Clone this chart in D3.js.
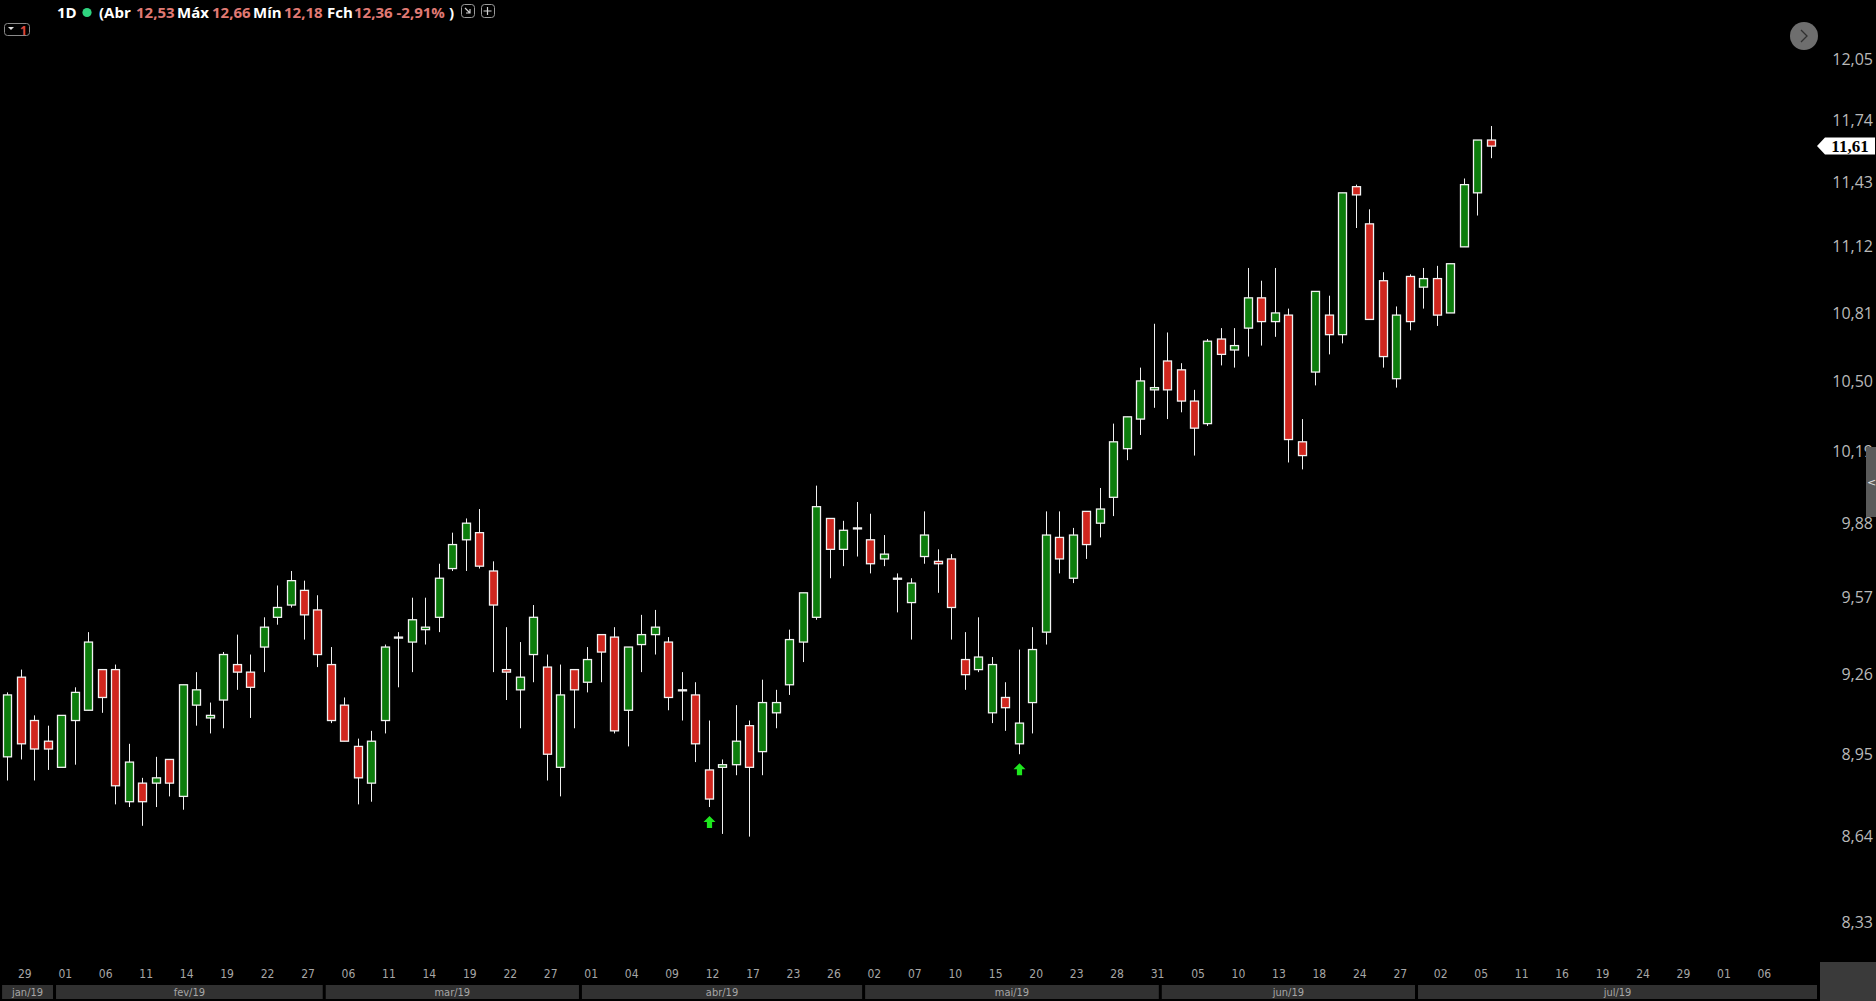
<!DOCTYPE html>
<html><head><meta charset="utf-8">
<script src="https://cdn.jsdelivr.net/npm/d3@7"></script>
<style>html,body{margin:0;padding:0;background:#000;overflow:hidden}</style>
</head><body><svg id="c" width="1876" height="1001"></svg>
<script>
// ---------- DATA ----------
const tradingDates = [
 "28/01","29/01","30/01","31/01",
 "01/02","04/02","05/02","06/02","07/02","08/02","11/02","12/02","13/02","14/02","15/02","18/02","19/02","20/02","21/02","22/02","25/02","26/02","27/02","28/02",
 "01/03","06/03","07/03","08/03","11/03","12/03","13/03","14/03","15/03","18/03","19/03","20/03","21/03","22/03","25/03","26/03","27/03","28/03","29/03",
 "01/04","02/04","03/04","04/04","05/04","08/04","09/04","10/04","11/04","12/04","15/04","16/04","17/04","18/04","22/04","23/04","24/04","25/04","26/04","29/04","30/04",
 "02/05","03/05","06/05","07/05","08/05","09/05","10/05","13/05","14/05","15/05","16/05","17/05","20/05","21/05","22/05","23/05","24/05","27/05","28/05","29/05","30/05","31/05",
 "03/06","04/06","05/06","06/06","07/06","10/06","11/06","12/06","13/06","14/06","17/06","18/06","19/06","21/06","24/06","25/06","26/06","27/06","28/06",
 "01/07","02/07","03/07","04/07","05/07","08/07"];
const futureDates = ["10/07","11/07","12/07","15/07","16/07","17/07","18/07","19/07","22/07","23/07","24/07","25/07","26/07","29/07","30/07","31/07","01/08","02/08","05/08","06/08","07/08","08/08","09/08","12/08"];
const monthNames = {"01":"jan/19","02":"fev/19","03":"mar/19","04":"abr/19","05":"mai/19","06":"jun/19","07":"jul/19"};

const openV = [8.94,9.25,9.08,9.00,8.90,9.08,9.12,9.28,9.28,8.77,
 8.84,8.84,8.93,8.79,9.14,9.09,9.16,9.30,9.27,9.37,
 9.49,9.54,9.60,9.52,9.30,9.14,8.98,8.84,9.08,9.41,
 9.39,9.44,9.49,9.69,9.81,9.84,9.68,9.28,9.20,9.34,
 9.29,8.90,9.28,9.23,9.42,9.41,9.12,9.38,9.42,9.39,
 9.20,9.18,8.89,8.90,8.91,9.06,8.96,9.11,9.22,9.39,
 9.49,9.90,9.77,9.86,9.81,9.73,9.65,9.55,9.74,9.72,
 9.73,9.32,9.28,9.11,9.17,8.99,9.15,9.43,9.82,9.65,
 9.93,9.88,9.99,10.20,10.33,10.46,10.59,10.55,10.41,10.31,
 10.69,10.64,10.74,10.88,10.77,10.80,10.23,10.54,10.80,10.71,
 11.41,11.23,10.96,10.51,10.98,10.93,10.97,10.81,11.12,11.38,11.64];
const highV = [9.19,9.28,9.10,9.06,9.10,9.21,9.43,9.28,9.30,8.99,
 8.86,8.94,8.93,9.22,9.27,9.15,9.35,9.42,9.34,9.49,
 9.62,9.68,9.64,9.58,9.37,9.17,9.01,9.04,9.38,9.43,
 9.57,9.57,9.71,9.84,9.90,9.94,9.72,9.45,9.39,9.54,
 9.34,9.30,9.28,9.37,9.42,9.45,9.37,9.50,9.52,9.41,
 9.27,9.23,9.08,8.93,9.14,9.08,9.24,9.20,9.44,9.59,
 10.04,9.90,9.89,9.97,9.92,9.83,9.67,9.65,9.93,9.77,
 9.75,9.43,9.49,9.33,9.23,9.36,9.45,9.93,9.93,9.86,
 9.93,10.03,10.31,10.34,10.56,10.76,10.72,10.58,10.46,10.69,
 10.74,10.74,11.02,10.96,11.02,10.83,10.33,10.91,10.89,11.38,
 11.42,11.30,11.00,10.84,10.99,11.02,11.03,11.04,11.45,11.64,11.71];
const lowV = [8.85,8.93,8.85,8.89,8.90,8.91,9.12,9.11,8.76,8.75,
 8.68,8.75,8.79,8.74,9.06,9.03,9.05,9.20,9.09,9.27,
 9.46,9.53,9.40,9.29,9.07,9.00,8.76,8.77,9.03,9.21,
 9.27,9.38,9.43,9.68,9.68,9.69,9.27,9.16,9.05,9.23,
 8.85,8.79,9.05,9.19,9.23,9.03,8.98,9.27,9.34,9.12,
 9.08,8.92,8.75,8.65,8.87,8.64,8.87,9.05,9.18,9.31,
 9.48,9.65,9.70,9.74,9.67,9.70,9.51,9.40,9.71,9.59,
 9.40,9.20,9.27,9.07,9.04,8.95,9.03,9.38,9.67,9.63,
 9.73,9.82,9.91,10.15,10.26,10.38,10.33,10.36,10.17,10.30,
 10.57,10.56,10.61,10.66,10.70,10.14,10.11,10.48,10.62,10.67,
 11.21,10.78,10.56,10.47,10.73,10.83,10.75,10.81,11.12,11.27,11.55];
const closeV = [9.18,8.99,8.97,8.97,9.10,9.19,9.39,9.17,8.83,8.92,
 8.77,8.86,8.84,9.22,9.20,9.10,9.34,9.27,9.21,9.45,
 9.53,9.64,9.50,9.34,9.08,9.00,8.86,9.00,9.37,9.41,
 9.48,9.45,9.65,9.79,9.88,9.70,9.54,9.27,9.25,9.49,
 8.95,9.18,9.20,9.32,9.35,9.04,9.37,9.42,9.45,9.17,
 9.20,8.99,8.78,8.91,9.00,8.90,9.15,9.15,9.40,9.59,
 9.95,9.77,9.85,9.86,9.71,9.75,9.65,9.63,9.83,9.71,
 9.53,9.26,9.33,9.30,9.13,9.07,9.36,9.83,9.73,9.83,
 9.79,9.94,10.23,10.34,10.50,10.47,10.46,10.41,10.29,10.68,
 10.62,10.66,10.88,10.77,10.81,10.24,10.17,10.91,10.71,11.38,
 11.37,10.78,10.61,10.80,10.77,10.97,10.80,11.04,11.42,11.64,11.61];
const yTickValues = [8.33,8.64,8.95,9.26,9.57,9.88,10.19,10.50,10.81,11.12,11.43,11.74,12.05];
const signalIndex = [52, 75];
const lastPrice = 11.61;
const headerTexts = ["(Abr","12,53","Máx","12,66","Mín","12,18","Fch","12,36 -2,91%",")"];
const headerKinds = ["w","v","w","v","w","v","w","v","w"];

// ---------- LAYOUT ----------
const W = 1876, H = 1001;
const plotRight = 1817, plotBottom = 960;
const allDates = tradingDates.concat(futureDates);
const x = d3.scaleLinear().domain([0, 1]).range([7.33, 7.33 + 13.485]);
const step = x(1) - x(0);
const y = d3.scaleLog().domain([8.1957, 12.3588]).range([plotBottom, 0]);

const svg = d3.select("#c");
svg.append("rect").attr("width", W).attr("height", H).attr("fill", "#000");
svg.append("defs").append("clipPath").attr("id", "plotclip")
  .append("rect").attr("x", 0).attr("y", 0).attr("width", plotRight).attr("height", plotBottom);

const data = tradingDates.map((d, i) => ({i, d, o: openV[i], h: highV[i], l: lowV[i], c: closeV[i]}));

const g = svg.append("g").attr("clip-path", "url(#plotclip)");
const bodyW = 8;
g.selectAll("line.wick").data(data).join("line")
  .attr("x1", d => Math.round(x(d.i)) + 0.5).attr("x2", d => Math.round(x(d.i)) + 0.5)
  .attr("y1", d => y(d.h)).attr("y2", d => y(d.l))
  .attr("stroke", "#f0f0f0").attr("stroke-width", 1);
g.selectAll("rect.body").data(data).join("rect")
  .attr("x", d => Math.round(x(d.i)) + 0.5 - bodyW / 2)
  .attr("y", d => y(Math.max(d.o, d.c)))
  .attr("width", bodyW)
  .attr("height", d => Math.max(1, Math.abs(y(d.o) - y(d.c))))
  .attr("fill", d => d.c > d.o ? "#0c7c0c" : (d.c < d.o ? "#d0261e" : "#f0f0f0"))
  .attr("stroke", "#f2f2f2").attr("stroke-width", 1.3);

const arrowPath = "M0,0 L6,6 L2.6,6 L2.6,12 L-2.6,12 L-2.6,6 L-6,6 Z";
g.selectAll("path.sig").data(signalIndex).join("path")
  .attr("d", arrowPath)
  .attr("transform", i => `translate(${Math.round(x(i)) + 0.5},${y(lowV[i]) + 9})`)
  .attr("fill", "#1ee61e");

// ---------- Y AXIS ----------
const yAxis = d3.axisRight(y).tickValues(yTickValues)
  .tickFormat(v => d3.format(".2f")(v).replace(".", ",")).tickSize(0).tickPadding(0);
const ya = svg.append("g").attr("transform", `translate(1873,0)`).call(yAxis);
ya.select(".domain").remove();
ya.selectAll("text").attr("text-anchor", "end").attr("x", 0)
  .attr("fill", "#b9b9b9").style("font-family", "'Open Sans', 'Noto Sans', sans-serif").style("font-size", "16px");

const ly = y(lastPrice);
svg.append("path")
  .attr("d", `M1817,${ly} L1825,${ly - 8.5} L1875,${ly - 8.5} L1875,${ly + 8.5} L1825,${ly + 8.5} Z`)
  .attr("fill", "#ffffff");
svg.append("text").attr("x", 1850).attr("y", ly + 6).attr("text-anchor", "middle")
  .attr("fill", "#000").style("font-family", "'Liberation Serif', serif").style("font-weight", "bold")
  .style("font-size", "17px").text(d3.format(".2f")(lastPrice).replace(".", ","));

// ---------- X AXIS (dates) ----------
const tickIdx = d3.range(1, allDates.length, 3).filter(i => x(i) < plotRight - 30);
svg.append("g").selectAll("text").data(tickIdx).join("text")
  .attr("x", i => x(i) + 4).attr("y", 978).attr("text-anchor", "middle")
  .attr("fill", "#a6a6a6").style("font-family", "'DejaVu Sans Condensed', 'Liberation Sans Narrow', sans-serif")
  .style("font-size", "12px").text(i => allDates[i].slice(0, 2));

const months = [];
tradingDates.forEach((d, i) => {
  const m = d.slice(3, 5);
  if (!months.length || months[months.length - 1].m !== m) months.push({m, s: i, e: i});
  else months[months.length - 1].e = i;
});
months.forEach((mm, k) => {
  mm.x0 = Math.max(0, x(mm.s) - step / 2 + 1.5);
  mm.x1 = k === months.length - 1 ? plotRight : x(mm.e) + step / 2 - 1.5;
});
const mb = svg.append("g");
mb.selectAll("rect").data(months).join("rect")
  .attr("x", d => d.x0).attr("y", 985).attr("width", d => d.x1 - d.x0).attr("height", 14)
  .attr("fill", "#313131");
mb.selectAll("text").data(months).join("text")
  .attr("x", d => (d.x0 + d.x1) / 2).attr("y", 996).attr("text-anchor", "middle")
  .attr("fill", "#a6a6a6").style("font-family", "'DejaVu Sans Condensed', 'Liberation Sans Narrow', sans-serif")
  .style("font-size", "11px").text(d => monthNames[d.m]);

svg.append("rect").attr("x", 1820).attr("y", 962).attr("width", 56).attr("height", 39).attr("fill", "#3a3a3a");

svg.append("rect").attr("x", 1866).attr("y", 447).attr("width", 10).attr("height", 70).attr("fill", "#5a5a5a");
svg.append("text").attr("x", 1867).attr("y", 486).attr("fill", "#e0e0e0")
  .style("font-family", "'DejaVu Sans', sans-serif").style("font-size", "11px").text("<");

svg.append("circle").attr("cx", 1804).attr("cy", 36).attr("r", 14).attr("fill", "#6e6e6e");
svg.append("path").attr("d", "M1801,30 L1807,36 L1801,42").attr("fill", "none")
  .attr("stroke", "#303030").attr("stroke-width", 1.3);

// ---------- HEADER ----------
const hf = "'Open Sans', 'Noto Sans', sans-serif";
svg.append("text").attr("x", 57).attr("y", 18).attr("fill", "#fff")
  .style("font-family", hf).style("font-weight", "bold").style("font-size", "15px").text("1D");
svg.append("circle").attr("cx", 87).attr("cy", 12.5).attr("r", 4.6).attr("fill", "#2fd47f");
const headerX = [99, 136, 177, 212, 253, 284, 327, 354, 449];
svg.append("g").selectAll("text").data(headerTexts).join("text")
  .attr("x", (t, k) => headerX[k]).attr("y", 18)
  .attr("fill", (t, k) => headerKinds[k] === "w" ? "#ffffff" : "#e07a74")
  .style("font-family", hf).style("font-weight", "bold").style("font-size", "15px")
  .text(t => t);

[[461, "M465,8 L470,13 M470,9 L470,13 L466,13"], [481, "M487.5,7 L487.5,15 M483.5,11 L491.5,11"]].forEach(([bx, d]) => {
  svg.append("rect").attr("x", bx + 0.5).attr("y", 4.5).attr("width", 13).attr("height", 13).attr("rx", 3)
    .attr("fill", "none").attr("stroke", "#9a9a9a").attr("stroke-width", 1);
  svg.append("path").attr("d", d).attr("fill", "none").attr("stroke", "#d0d0d0").attr("stroke-width", 1.2);
});
svg.append("rect").attr("x", 4.5).attr("y", 23.5).attr("width", 25).attr("height", 12).attr("rx", 3)
  .attr("fill", "none").attr("stroke", "#8a8a8a").attr("stroke-width", 1);
svg.append("path").attr("d", "M8,27 L14,27 L11,30 Z").attr("fill", "#e0e0e0");
svg.append("text").attr("x", 20).attr("y", 35).attr("fill", "#e0473d")
  .style("font-family", hf).style("font-weight", "bold").style("font-size", "12px").text("1");
</script>
</body></html>
